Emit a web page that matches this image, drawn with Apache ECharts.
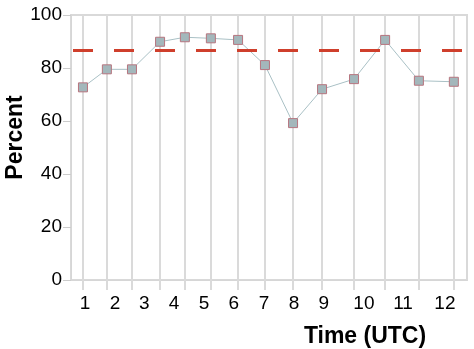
<!DOCTYPE html>
<html>
<head>
<meta charset="utf-8">
<script src="https://cdn.jsdelivr.net/npm/echarts@6/dist/echarts.min.js"></script>
<style>html,body{margin:0;padding:0;background:#fff}#c{width:474px;height:349px}</style>
</head>
<body>
<div id="c"></div>
<script>
// Sample times (hours, UTC) and measured percent values
var sampleTimes = [0.90, 1.70, 2.54, 3.48, 4.31, 5.18, 6.09, 6.99, 7.93, 8.90, 9.97, 11.01, 12.14, 13.31];
var percentValues = [72.7, 79.5, 79.5, 89.9, 91.6, 91.2, 90.6, 81.1, 59.2, 72.0, 75.8, 90.6, 75.2, 74.8];
// Target threshold (dashed line)
var targetValue = 86.6;
// Time axis tick labels and where they sit on the time axis
var timeLabels = ['1', '2', '3', '4', '5', '6', '7', '8', '9', '10', '11', '12'];
var timeLabelPos = [0.97, 1.97, 2.95, 3.95, 4.95, 5.95, 6.96, 7.96, 8.96, 10.30, 11.61, 13.01];
var yTicks = { min: 0, max: 100, interval: 20 };

var seriesData = sampleTimes.map(function (t, i) { return [t, percentValues[i]]; });
var labelMap = {};
timeLabelPos.forEach(function (p, i) { labelMap[p] = timeLabels[i]; });

var chart = echarts.init(document.getElementById('c'));
var FONT = 'Liberation Sans, Arial, sans-serif';
chart.setOption({
  animation: false,
  grid: { left: 71, right: 7, top: 15, bottom: 69, outerBoundsMode: 'none', containLabel: false,
          show: true, borderColor: '#d9d9d9', borderWidth: 2 },
  xAxis: {
    type: 'value', min: 0.5, max: 13.75,
    name: 'Time (UTC)', nameLocation: 'middle', nameGap: 45, nameMoveOverlap: false,
    nameTextStyle: { fontFamily: FONT, fontSize: 23, fontWeight: 'bold', color: '#000', padding: [0, 0, 0, 192] },
    axisLine: { show: true, lineStyle: { color: '#d6d6d6', width: 1 } },
    axisTick: { show: true, length: 10, customValues: sampleTimes, lineStyle: { color: '#dadada', width: 2 } },
    splitLine: { show: true, lineStyle: { color: '#dadada', width: 2 } },
    axisLabel: {
      customValues: timeLabelPos, margin: 14, fontFamily: FONT, fontSize: 19, color: '#000',
      formatter: function (v) { return labelMap[v] !== undefined ? labelMap[v] : ''; }
    }
  },
  yAxis: {
    type: 'value', min: yTicks.min, max: yTicks.max, interval: yTicks.interval,
    name: 'Percent', nameLocation: 'middle', nameGap: 44, nameRotate: 90, nameMoveOverlap: false,
    nameTextStyle: { fontFamily: FONT, fontSize: 23, fontWeight: 'bold', color: '#000', padding: [0, 0, 0, 20] },
    axisLine: { show: true, lineStyle: { color: '#d6d6d6', width: 1 } },
    axisTick: { show: true, length: 8, lineStyle: { color: '#cccccc', width: 1 } },
    splitLine: { show: false },
    axisLabel: { margin: 9, fontFamily: FONT, fontSize: 19, color: '#000' }
  },
  series: [{
    type: 'line',
    data: seriesData,
    symbol: 'rect', symbolSize: 9,
    itemStyle: { color: '#a3b7bb', borderColor: '#b7757f', borderWidth: 1 },
    lineStyle: { color: '#a9c0c5', width: 1 },
    markLine: {
      silent: true, symbol: 'none', label: { show: false },
      lineStyle: { color: '#cf3f2c', width: 3, type: [20, 21], dashOffset: -2 },
      data: [{ yAxis: targetValue }]
    },
    z: 3
  }]
});
</script>
</body>
</html>
